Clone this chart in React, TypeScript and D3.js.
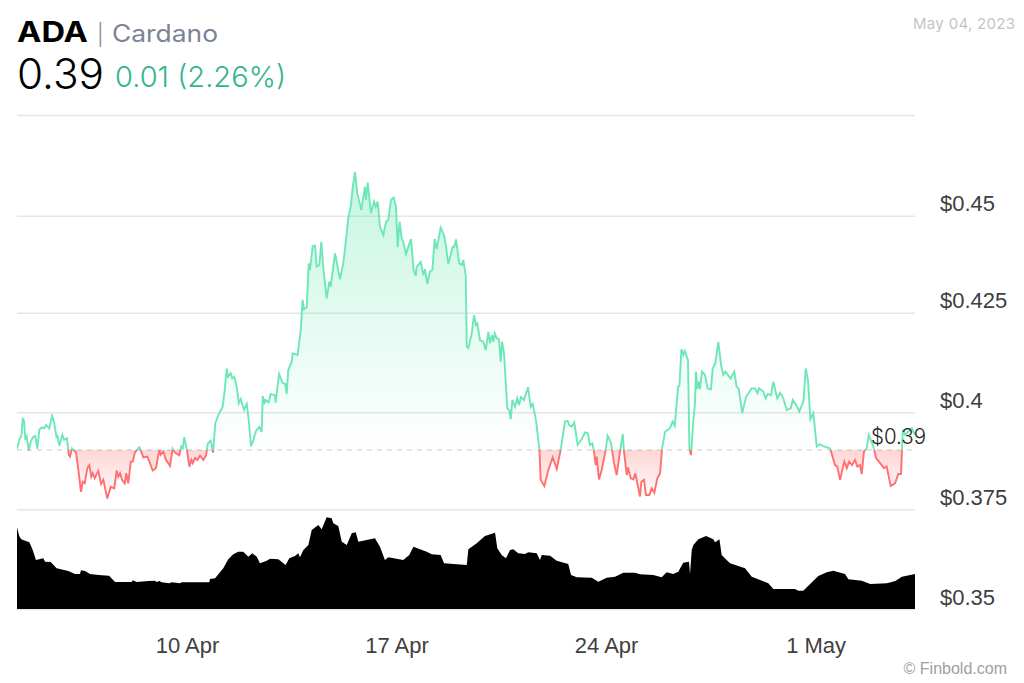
import React, { useRef, useEffect } from 'react';
import * as d3 from 'd3';

const startDate = new Date(2023, 3, 4, 7, 42);
const endDate = new Date(2023, 4, 4, 7, 42);
const xTickDates = [new Date(2023, 3, 10), new Date(2023, 3, 17), new Date(2023, 3, 24), new Date(2023, 4, 1)];
const priceTicks = [0.35, 0.375, 0.4, 0.425, 0.45, 0.475];
const previousClose = 0.3903;

// [hours since start, price]
const pricePoints: [number, number][] = [
  [0, .3906], [2.4, .3934], [3.4, .3937], [4.6, .3983], [5.6, .3979], [6.7, .3929], [7.8, .3937], [9.4, .3901], [11, .3924], [13.1, .3937],
  [14.7, .3939], [16.3, .3906], [17.9, .3955], [19.8, .3961], [21.6, .3958], [23.3, .3967], [25.9, .3958], [28.1, .3991], [29.7, .3976], [31.8, .3933],
  [32.3, .3942], [33.9, .3914], [36.3, .3942], [37.7, .3929], [40.1, .3933], [41.5, .389], [42.5, .3886], [44.1, .3907], [47.3, .3897], [49.5, .3844],
  [51.3, .3795], [52.7, .3821], [54.3, .3817], [56.4, .3856], [58, .3864], [59.6, .3834], [60.7, .3843], [62.3, .383], [65.2, .3849], [67.4, .3815],
  [69.2, .3826], [72.4, .3778], [75.1, .3808], [78, .3804], [79.9, .385], [81.2, .3834], [82.6, .3843], [84.2, .3826], [86.4, .3817], [87.6, .3843],
  [89.2, .3817], [91.2, .3873], [92.8, .3873], [94.6, .3897], [98.1, .391], [101.3, .3884], [104.5, .3886], [106.6, .3869], [108.8, .385], [111.4, .3856],
  [114.1, .3903], [115.2, .389], [117.3, .3899], [119.2, .3879], [122.7, .3862], [124.8, .3906], [126.7, .3896], [130.1, .3889], [131.7, .3912], [132.9, .3907],
  [134.1, .3936], [136.1, .3905], [138.2, .386], [139.8, .3877], [140.9, .3869], [142.7, .3882], [144.6, .3877], [146.7, .3888], [149.4, .3877], [151.5, .3888],
  [153.1, .392], [155.3, .3927], [157.2, .3896], [159, .3972], [161.4, .3993], [164.9, .4014], [166.5, .4054], [168.1, .411], [169.2, .4089], [171.3, .4098],
  [172.6, .4085], [174.2, .4089], [176.2, .4064], [177.8, .4023], [179.4, .4033], [182, .4006], [184.2, .4021], [185.8, .398], [187.6, .3912], [189.5, .3929],
  [191.6, .3952], [194.3, .3962], [196.2, .395], [197, .4041], [198.3, .4021], [199.1, .4031], [201.8, .4025], [203.4, .4046], [206.6, .4043], [207.4, .4024],
  [210.1, .4096], [213, .4074], [215.1, .4071], [216.2, .4046], [217.5, .4106], [220.3, .4127], [221, .4148], [225, .4144], [227.5, .4207], [229, .4283],
  [230.1, .4259], [232.3, .4264], [233.9, .4377], [234.9, .436], [237.1, .4422], [238.9, .4423], [240.3, .4369], [242.4, .4373], [244, .4433], [245.6, .4364],
  [248.3, .4287], [250.4, .433], [251.5, .4317], [255, .4403], [259, .4336], [261.6, .4377], [263, .4416], [265.6, .4493], [267.8, .4527], [269.2, .4572],
  [271, .4609], [272.8, .4556], [274.5, .4535], [276, .4514], [279, .4572], [279.8, .4539], [281.2, .4582], [283.8, .4506], [286.2, .4535], [287.6, .4522],
  [289.2, .4535], [291, .4472], [293.7, .445], [295.9, .4485], [297.7, .4489], [299.9, .4539], [302, .4545], [303.9, .4522], [305.2, .4419], [306.8, .4485],
  [308.4, .4442], [309.7, .4433], [311.9, .4401], [313.7, .4419], [315.9, .444], [318, .436], [319.7, .4345], [320.5, .4369], [323.7, .4381], [325.8, .4347],
  [327.1, .4362], [329, .4324], [331.1, .4356], [333, .436], [334.9, .444], [336.5, .4414], [339.7, .4469], [342.4, .445], [344, .442], [345.8, .4375],
  [349.3, .442], [350.6, .442], [352, .4439], [354.6, .4377], [356.6, .4373], [357.8, .4386], [359.8, .4345], [360.6, .4165], [361.9, .4161], [364.6, .4198],
  [366.4, .4244], [368, .4219], [369.1, .4223], [371.2, .4181], [373.9, .4177], [375.8, .4156], [377.9, .4202], [379.2, .4173], [380.8, .4194], [381.9, .4177],
  [383, .4198], [384.6, .4186], [386.5, .4183], [387.8, .4127], [388.9, .4177], [390.5, .4148], [393.1, .401], [394.5, .4006], [395.9, .3982], [397.1, .4031],
  [399.3, .4014], [401.1, .4035], [402.5, .4018], [404.1, .4038], [406.5, .4031], [409.7, .4063], [411.9, .4014], [413.5, .4021], [416.1, .398], [418.8, .3907],
  [419.9, .3826], [422.8, .381], [426, .3851], [429.5, .3884], [432.8, .3854], [435.9, .3903], [437.5, .3936], [439.4, .3976], [441.5, .3978], [442.8, .3967],
  [444.8, .3963], [446.8, .3974], [449.5, .3916], [452.8, .3931], [455.4, .3948], [457.6, .3946], [459.4, .3916], [461.3, .392], [462.6, .3899], [464, .3864],
  [464.8, .3886], [466.6, .3827], [468.8, .3851], [472, .3903], [473.5, .394], [476.3, .3921], [478.7, .3869], [480.8, .3838], [483.5, .3899], [485.7, .3944],
  [486.7, .3899], [488.9, .3838], [489.9, .3858], [492.1, .383], [494.2, .3827], [495.7, .3843], [497.4, .3817], [499.5, .3783], [500.6, .3821], [502.7, .3826],
  [504.3, .3787], [507, .3787], [508.9, .3804], [511, .3793], [513.4, .383], [515.6, .3843], [517.2, .3907], [519.6, .395], [523.6, .3959], [525.7, .3976],
  [527.4, .3965], [530, .4064], [531.1, .4066], [532.7, .4158], [534.3, .4144], [535.4, .4154], [538, .4131], [539.1, .3907], [540.4, .389], [542.3, .398],
  [543.6, .4023], [544.4, .4102], [545.5, .4058], [546.6, .4077], [547.6, .4058], [549.2, .4102], [551.6, .4094], [553.8, .406], [556.4, .4058], [557.8, .411],
  [559.9, .4123], [562.3, .4177], [564.5, .4119], [566.3, .4094], [567.9, .4102], [572.2, .4085], [575.1, .4102], [577, .4064], [578.6, .406], [581.5, .3998],
  [584.5, .4039], [589, .406], [591.7, .406], [593.6, .4048], [594.9, .406], [598.4, .4052], [600.3, .4035], [601.9, .4046], [604.5, .4043], [606.4, .4077],
  [609.6, .4035], [611.8, .4049], [614.4, .4035], [617.2, .4006], [620.4, .401], [622, .4031], [625.2, .4016], [627.2, .4002], [630.5, .4027], [632.4, .411],
  [634.2, .4081], [636.1, .3982], [638.5, .3998], [641.2, .3912], [643.9, .3918], [647, .3912], [651.9, .3907], [655.9, .3864], [657.7, .386], [659.9, .3826],
  [663.3, .3873], [665.3, .3856], [667.2, .3873], [669.5, .3864], [671.9, .3877], [673.8, .386], [675.9, .3864], [677.3, .3841], [679.1, .3899], [681.3, .3907],
  [682.9, .3942], [686.6, .3912], [688.8, .3882], [693.3, .3864], [695.2, .3856], [697.3, .386], [700.5, .381], [704, .3817], [706.6, .3841], [708.8, .3841],
  [710.2, .3955], [712, .3942], [714.6, .395], [717.4, .3959], [720, .3942],
];

// [hours since start, traded volume, arbitrary units]
const volumePoints: [number, number][] = [
  [0, 81.7], [1.8, 73], [3.4, 69.7], [9.9, 66.7], [12.6, 59], [15.2, 49], [21.1, 50.7], [22.5, 47.3], [27, 47], [31.8, 40.7],
  [41.1, 38], [46.5, 35], [50.5, 35], [51.3, 38.7], [54.5, 38], [58.5, 35], [65.2, 34], [73.8, 33.3], [78.6, 27], [92, 27],
  [92.8, 28.7], [96, 27], [105.3, 28], [110.6, 28.3], [112, 27], [114.1, 28], [116, 26.7], [122.1, 25.7], [124, 26.7], [130.7, 25.7],
  [132, 26.7], [154.2, 26.7], [154.7, 30], [158.8, 30.7], [165.4, 40.7], [169.4, 49.7], [173.4, 54.7], [177.4, 57.3], [181.4, 57.3], [185.5, 52.3],
  [188.7, 55.7], [192.2, 52.3], [194.8, 45.7], [200.2, 48.3], [202.9, 50.3], [209.5, 49.7], [215.4, 44], [218.3, 50.7], [222.9, 53], [225.5, 55.7],
  [226.9, 51.7], [229.6, 59], [233.6, 64], [236.3, 79], [241.6, 84], [244.3, 79.7], [248.3, 91.7], [252.3, 90.7], [253.6, 85.7], [257.6, 83],
  [260.4, 67.3], [264.4, 64], [268.4, 75.7], [271.6, 76.7], [273.7, 67.3], [287, 70.7], [291, 62.3], [295, 49], [297.7, 51.7], [309.7, 49],
  [314.5, 54], [317.8, 62.3], [328.5, 57.3], [332.5, 54.7], [339.7, 54], [342.4, 45.7], [360.6, 44], [361.9, 59.7], [368.6, 65.7], [375.2, 73],
  [383.3, 76.3], [385.1, 60.7], [388.6, 54], [392.1, 50.7], [395.3, 59], [397.9, 59.7], [401.9, 55.7], [407.3, 55], [409.9, 56.7], [416.7, 55.7],
  [419.3, 49], [420.7, 54], [427.4, 53.3], [432.7, 48.3], [442, 45], [444.2, 34], [448.8, 31.7], [460.8, 31.3], [466.1, 27.3], [472.8, 31.3],
  [479.5, 32.3], [486.1, 36.3], [495.5, 36.3], [499.5, 34.7], [510.2, 34], [516.9, 31.7], [520.9, 36.7], [526.2, 35], [530.2, 37.3], [534.2, 46.3],
  [538.8, 47.3], [539.6, 35], [541, 59], [542.3, 64], [546.3, 69.7], [552.5, 73], [558.3, 69.7], [559.7, 66.7], [563.2, 69.7], [565, 54],
  [569, 49], [571.7, 45.7], [583.7, 40.7], [589.1, 32.3], [602.4, 25.7], [606.4, 20], [623.8, 20], [626.5, 18.3], [630.4, 18.3], [634.5, 23.3],
  [642.5, 33], [649.2, 36.7], [654.5, 38.3], [663.9, 35], [666.6, 29.7], [677.3, 28.3], [684.1, 25], [697.5, 25.7], [704.2, 28], [709.5, 32.3],
  [720, 35],
];

const titleFont = 'Inter, "Noto Sans", sans-serif';
const axisFont = '"Liberation Sans", Arial, sans-serif';
const hour = 3600 * 1000;

export default function App() {
  const svgRef = useRef<SVGSVGElement>(null);

  useEffect(() => {
    const svg = d3.select(svgRef.current);
    svg.selectAll('*').remove();

    const left = 17;
    const right = 915;
    const bottom = 609;

    const xScale = d3.scaleTime().domain([startDate, endDate]).range([left, right]);
    const xHour = (h: number) => xScale(new Date(startDate.getTime() + h * hour));
    // gridlines in the picture are not evenly spaced, so the scale has one segment per tick
    const yScale = d3.scaleLinear().domain(priceTicks).range([609, 509.3, 412.3, 312.7, 215.7, 115]);
    const volScale = d3.scaleLinear().domain([0, 100]).range([bottom, bottom - 100]);
    const baseY = yScale(previousClose);

    const defs = svg.append('defs');
    defs.append('clipPath').attr('id', 'above').append('rect')
      .attr('x', left).attr('y', 0).attr('width', right - left + 2).attr('height', baseY);
    defs.append('clipPath').attr('id', 'below').append('rect')
      .attr('x', left).attr('y', baseY).attr('width', right - left + 2).attr('height', bottom - baseY);

    const greenGrad = defs.append('linearGradient').attr('id', 'greenFill')
      .attr('gradientUnits', 'userSpaceOnUse').attr('x1', 0).attr('x2', 0).attr('y1', yScale(0.4609)).attr('y2', baseY);
    greenGrad.append('stop').attr('offset', 0).attr('stop-color', '#6ee7b7').attr('stop-opacity', 0.4);
    greenGrad.append('stop').attr('offset', 1).attr('stop-color', '#6ee7b7').attr('stop-opacity', 0);
    const redGrad = defs.append('linearGradient').attr('id', 'redFill')
      .attr('gradientUnits', 'userSpaceOnUse').attr('x1', 0).attr('x2', 0).attr('y1', baseY).attr('y2', yScale(0.3778));
    redGrad.append('stop').attr('offset', 0).attr('stop-color', '#ff6b6b').attr('stop-opacity', 0.28);
    redGrad.append('stop').attr('offset', 1).attr('stop-color', '#ff6b6b').attr('stop-opacity', 0.02);

    // Grid and price labels
    const yAxis = svg.append('g')
      .attr('transform', `translate(${right},0)`)
      .call(d3.axisRight(yScale).tickValues(priceTicks).tickSize(-(right - left))
        .tickFormat(d => (+d === 0.475 ? '' : `$${+d}`)));
    yAxis.select('.domain').remove();
    yAxis.selectAll('line').attr('stroke', '#e6e6e6').attr('stroke-width', 1.6);
    yAxis.selectAll('text')
      .attr('x', 25).attr('y', -12)
      .attr('fill', '#404040')
      .style('font-family', axisFont).style('font-size', '22px');

    // Previous close
    svg.append('line')
      .attr('x1', left).attr('x2', right - 2).attr('y1', baseY).attr('y2', baseY)
      .attr('stroke', '#dcdcdc').attr('stroke-width', 1.5).attr('stroke-dasharray', '5,5');

    const area = d3.area<[number, number]>()
      .x(d => xHour(d[0])).y0(baseY).y1(d => yScale(d[1]));
    const line = d3.line<[number, number]>()
      .x(d => xHour(d[0])).y(d => yScale(d[1]));

    svg.append('path').datum(pricePoints).attr('d', area).attr('fill', 'url(#greenFill)').attr('clip-path', 'url(#above)');
    svg.append('path').datum(pricePoints).attr('d', area).attr('fill', 'url(#redFill)').attr('clip-path', 'url(#below)');
    svg.append('path').datum(pricePoints).attr('d', line).attr('fill', 'none')
      .attr('stroke', '#6ee7b7').attr('stroke-width', 1.9).attr('clip-path', 'url(#above)');
    svg.append('path').datum(pricePoints).attr('d', line).attr('fill', 'none')
      .attr('stroke', '#ff7070').attr('stroke-width', 1.9).attr('clip-path', 'url(#below)');

    // Volume
    const volArea = d3.area<[number, number]>()
      .x(d => xHour(d[0])).y0(bottom).y1(d => volScale(d[1]));
    svg.append('path').datum(volumePoints).attr('d', volArea).attr('fill', '#000');

    // Date axis
    const xAxis = svg.append('g')
      .attr('transform', `translate(0,${bottom})`)
      .call(d3.axisBottom(xScale).tickValues(xTickDates).tickSize(0).tickPadding(28)
        .tickFormat(d => d3.timeFormat('%-d %b')(d as Date)));
    xAxis.select('.domain').remove();
    xAxis.selectAll('text')
      .attr('fill', '#404040')
      .style('font-family', axisFont).style('font-size', '22px');

    // Header
    const addText = (x: number, y: number, str: string, size: number, fill: string, weight = 400, family = titleFont) =>
      svg.append('text').attr('x', x).attr('y', y).attr('fill', fill)
        .style('font-family', family).style('font-size', `${size}px`).style('font-weight', weight).text(str);

    addText(17, 42, 'ADA', 29, '#000', 700).attr('textLength', 71).attr('lengthAdjust', 'spacingAndGlyphs');
    addText(97, 42, '|', 21, '#7b8494', 300);
    addText(112, 42, 'Cardano', 24, '#7b8494', 400).attr('textLength', 106).attr('lengthAdjust', 'spacingAndGlyphs');
    addText(17, 89, '0.39', 42, '#000', 300).attr('textLength', 87).attr('lengthAdjust', 'spacingAndGlyphs');
    addText(115, 87, '0.01 (2.26%)', 29, '#34b586', 300).attr('textLength', 171).attr('lengthAdjust', 'spacingAndGlyphs');
    addText(1015, 29, 'May 04, 2023', 15, '#c4c4c4').attr('textLength', 102).attr('text-anchor', 'end');
    addText(871, 444, '$0.39', 21, '#222', 300).attr('textLength', 55).attr('lengthAdjust', 'spacingAndGlyphs');
    addText(1007, 674, '© Finbold.com', 16, '#a0a0a0', 400, axisFont).attr('text-anchor', 'end');
  }, []);

  return (
    <svg
      ref={svgRef}
      width={1024}
      height={683}
      style={{ position: 'absolute', left: 0, top: 0, background: '#fff' }}
    />
  );
}
